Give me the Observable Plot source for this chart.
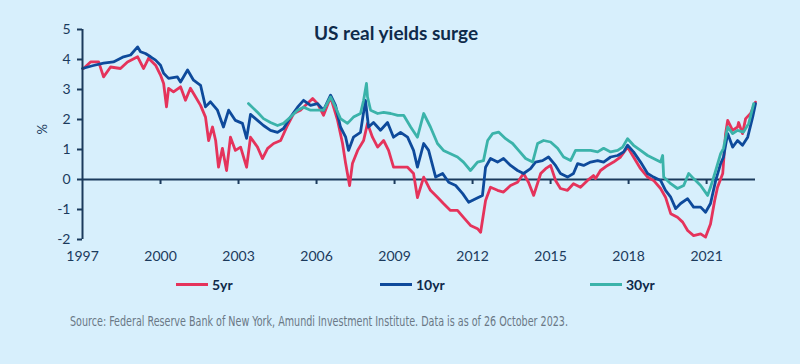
<!DOCTYPE html>
<html>
<head>
<meta charset="utf-8">
<script src="https://cdn.jsdelivr.net/npm/d3@7"></script>
<script src="https://cdn.jsdelivr.net/npm/@observablehq/plot@0.6"></script>
<style>
  html, body { margin: 0; padding: 0; background: #d7effc; }
  #wrap { position: relative; width: 800px; height: 364px; background: #d7effc; overflow: hidden; font-family: Lato, "Open Sans", sans-serif; }
  #chart { position: absolute; left: 0; top: 0; }
  #title { position: absolute; left: 0; width: 792px; top: 23px; text-align: center; font-weight: 700; font-size: 19px; line-height: 19px; color: #0e2a4a; }
  .leg { position: absolute; top: 276px; display: flex; align-items: center; font-weight: 700; font-size: 14px; color: #0e2a4a; }
  .sw { display: inline-block; width: 32px; height: 3px; margin-right: 4px; }
  #caption { position: absolute; left: 70px; top: 313px; font-family: "Liberation Sans Narrow", "DejaVu Sans Condensed", sans-serif; font-size: 14px; color: #6a7886; white-space: nowrap; transform-origin: 0 0; }
</style>
</head>
<body>
<div id="wrap">
  <div id="chart"></div>
  <div id="title"></div>
  <div id="legend"></div>
  <div id="caption"></div>
</div>
<script>
const titleText = "US real yields surge";
const captionText = "Source: Federal Reserve Bank of New York, Amundi Investment Institute. Data is as of 26 October 2023.";
const seriesNames = ["5yr", "10yr", "30yr"];
const seriesColors = ["#e5335b", "#0e4a9b", "#3bb3aa"];
const xTicks = [1997, 2000, 2003, 2006, 2009, 2012, 2015, 2018, 2021];
const yTicks = [-2, -1, 0, 1, 2, 3, 4, 5];

// [decimal year, real yield %]
const yield5 = [[1997.04,3.70],[1997.31,3.92],[1997.62,3.92],[1997.81,3.42],[1998.08,3.75],[1998.46,3.70],[1998.73,3.92],[1999.12,4.09],[1999.35,3.70],[1999.54,4.04],[1999.81,3.81],[2000.00,3.48],[2000.12,3.20],[2000.23,2.42],[2000.31,3.04],[2000.50,2.92],[2000.77,3.09],[2000.96,2.64],[2001.15,3.04],[2001.35,2.75],[2001.54,2.47],[2001.73,2.08],[2001.85,1.30],[2002.00,1.75],[2002.12,1.30],[2002.23,0.41],[2002.38,1.04],[2002.54,0.30],[2002.69,1.41],[2002.88,0.97],[2003.08,1.08],[2003.31,0.41],[2003.46,1.41],[2003.73,1.08],[2003.92,0.70],[2004.12,1.04],[2004.35,1.20],[2004.62,1.30],[2004.88,1.80],[2005.12,2.20],[2005.38,2.31],[2005.65,2.53],[2005.85,2.70],[2006.04,2.53],[2006.27,2.14],[2006.54,2.75],[2006.81,1.97],[2007.00,1.20],[2007.12,0.53],[2007.27,-0.20],[2007.38,0.53],[2007.58,0.97],[2007.81,1.30],[2007.96,1.87],[2008.15,1.41],[2008.35,1.08],[2008.58,1.30],[2008.77,0.97],[2008.96,0.41],[2009.23,0.41],[2009.50,0.41],[2009.73,0.20],[2009.88,-0.60],[2010.12,0.08],[2010.38,-0.36],[2010.65,-0.59],[2010.88,-0.80],[2011.15,-1.03],[2011.42,-1.03],[2011.65,-1.26],[2011.92,-1.53],[2012.19,-1.64],[2012.31,-1.76],[2012.50,-0.70],[2012.69,-0.26],[2012.96,-0.36],[2013.19,-0.42],[2013.46,-0.20],[2013.73,-0.09],[2013.96,0.20],[2014.15,-0.09],[2014.35,-0.53],[2014.62,0.20],[2014.81,0.36],[2015.00,0.47],[2015.19,-0.03],[2015.38,-0.30],[2015.65,-0.36],[2015.88,-0.14],[2016.15,-0.26],[2016.42,-0.03],[2016.65,0.13],[2016.73,0.03],[2016.92,0.30],[2017.19,0.47],[2017.42,0.58],[2017.69,0.75],[2017.96,1.08],[2018.19,0.75],[2018.46,0.36],[2018.73,0.08],[2018.96,-0.03],[2019.23,-0.30],[2019.42,-0.59],[2019.62,-1.14],[2019.88,-1.26],[2020.08,-1.42],[2020.27,-1.70],[2020.50,-1.87],[2020.77,-1.81],[2020.96,-1.92],[2021.15,-1.48],[2021.31,-0.70],[2021.42,-0.26],[2021.62,0.20],[2021.73,1.53],[2021.81,1.97],[2022.00,1.64],[2022.19,1.75],[2022.23,1.90],[2022.38,1.53],[2022.50,2.03],[2022.69,2.20],[2022.88,2.58]];

const yield10 = [[1997.00,3.70],[1997.42,3.80],[1997.81,3.88],[1998.19,3.92],[1998.58,4.09],[1998.85,4.15],[1999.12,4.42],[1999.23,4.26],[1999.42,4.20],[1999.62,4.09],[1999.81,3.98],[2000.00,3.81],[2000.12,3.54],[2000.31,3.37],[2000.65,3.42],[2000.77,3.25],[2001.04,3.65],[2001.27,3.31],[2001.54,3.14],[2001.73,2.42],[2001.92,2.59],[2002.19,2.31],[2002.42,1.75],[2002.62,2.31],[2002.88,1.97],[2003.15,1.87],[2003.31,1.37],[2003.46,2.17],[2003.73,1.97],[2003.96,1.80],[2004.23,1.64],[2004.50,1.57],[2004.73,1.70],[2005.00,2.08],[2005.27,2.41],[2005.50,2.64],[2005.77,2.47],[2006.04,2.53],[2006.27,2.31],[2006.54,2.81],[2006.73,2.47],[2006.92,1.75],[2007.12,1.41],[2007.23,0.97],[2007.42,1.41],[2007.69,1.57],[2007.88,2.64],[2008.00,1.75],[2008.19,1.90],[2008.46,1.64],[2008.73,1.90],[2008.96,1.41],[2009.23,1.57],[2009.50,1.41],[2009.73,0.97],[2009.88,0.41],[2010.12,1.20],[2010.31,0.97],[2010.58,0.08],[2010.85,0.20],[2011.08,-0.09],[2011.35,-0.20],[2011.62,-0.47],[2011.85,-0.76],[2012.12,-0.64],[2012.38,-0.53],[2012.50,0.41],[2012.69,0.70],[2012.96,0.58],[2013.19,0.70],[2013.46,0.47],[2013.73,0.30],[2013.96,0.20],[2014.23,0.36],[2014.42,0.58],[2014.69,0.63],[2014.92,0.75],[2015.19,0.47],[2015.38,0.20],[2015.65,0.08],[2015.88,0.20],[2016.04,0.53],[2016.27,0.47],[2016.54,0.58],[2016.81,0.63],[2017.04,0.58],[2017.31,0.75],[2017.58,0.80],[2017.81,0.92],[2017.96,1.14],[2018.19,0.92],[2018.46,0.58],[2018.73,0.20],[2018.96,0.08],[2019.23,-0.03],[2019.42,-0.36],[2019.62,-0.59],[2019.81,-0.97],[2020.00,-0.80],[2020.27,-0.64],[2020.50,-0.92],[2020.77,-0.92],[2020.96,-1.09],[2021.15,-0.80],[2021.35,-0.03],[2021.54,0.53],[2021.65,0.75],[2021.81,1.53],[2022.00,1.08],[2022.19,1.30],[2022.38,1.14],[2022.58,1.41],[2022.77,2.08],[2022.88,2.53]];

const yield30 = [[2003.38,2.53],[2003.73,2.24],[2003.96,2.03],[2004.23,1.90],[2004.50,1.80],[2004.73,1.87],[2005.00,2.08],[2005.27,2.31],[2005.50,2.41],[2005.77,2.31],[2006.04,2.31],[2006.27,2.31],[2006.54,2.75],[2006.73,2.41],[2006.92,2.03],[2007.19,1.87],[2007.42,2.08],[2007.69,2.20],[2007.81,2.64],[2007.92,3.20],[2007.96,2.75],[2008.08,2.31],[2008.35,2.20],[2008.58,2.24],[2008.85,2.20],[2009.12,2.14],[2009.35,2.14],[2009.62,1.75],[2009.88,1.41],[2010.12,2.20],[2010.38,1.75],[2010.65,1.20],[2010.88,0.97],[2011.15,0.86],[2011.42,0.75],[2011.65,0.58],[2011.92,0.30],[2012.19,0.58],[2012.42,0.63],[2012.58,1.30],[2012.77,1.53],[2013.00,1.58],[2013.27,1.36],[2013.54,1.20],[2013.77,0.97],[2014.04,0.70],[2014.31,0.58],[2014.50,1.20],[2014.73,1.30],[2015.00,1.25],[2015.27,1.04],[2015.50,0.75],[2015.77,0.63],[2015.96,0.97],[2016.27,0.97],[2016.54,0.97],[2016.81,0.92],[2017.04,1.04],[2017.31,0.92],[2017.58,0.97],[2017.77,1.08],[2017.96,1.36],[2018.19,1.14],[2018.46,0.97],[2018.73,0.80],[2018.96,0.70],[2019.23,0.58],[2019.31,0.80],[2019.35,0.08],[2019.62,-0.14],[2019.88,-0.30],[2020.12,-0.20],[2020.31,0.20],[2020.50,0.03],[2020.77,-0.20],[2021.04,-0.53],[2021.15,-0.26],[2021.35,0.30],[2021.54,0.86],[2021.65,1.04],[2021.81,1.75],[2022.00,1.53],[2022.19,1.64],[2022.42,1.58],[2022.62,1.87],[2022.81,2.53]];

const seriesData = [yield5, yield10, yield30];
const rows = seriesData.flatMap((arr, i) => arr.map(([t, v]) => ({series: seriesNames[i], t, v})));

const axisColor = "#1b3a5c";

const chart = Plot.plot({
  width: 800,
  height: 275,
  marginTop: 29,
  marginBottom: 36,
  marginLeft: 82,
  marginRight: 45,
  style: {background: "transparent", fontFamily: "Lato, 'Open Sans', sans-serif", fontSize: "14px", color: axisColor},
  x: {domain: [1997, 2022.88]},
  y: {domain: [-2, 5]},
  color: {domain: seriesNames, range: seriesColors},
  marks: [
    Plot.axisY({ticks: yTicks, tickSize: 5, tickPadding: 7, tickFormat: d => String(d), label: null, strokeWidth: 2, stroke: axisColor, fill: axisColor}),
    Plot.axisX({ticks: xTicks, tickSize: 0, tickPadding: 12, tickFormat: d => String(d), label: null, fill: axisColor}),
    Plot.ruleY([0], {stroke: axisColor, strokeWidth: 2}),
    Plot.ruleX(xTicks.slice(1), {x: d => d, y1: 0, y2: 0, insetBottom: -5, stroke: axisColor, strokeWidth: 2}),
    Plot.line(rows, {x: "t", y: "v", z: "series", stroke: "series", strokeWidth: 2.8, strokeLinejoin: "round"}),
    Plot.ruleX([xTicks[0]], {stroke: axisColor, strokeWidth: 2}),
    Plot.text(["%"], {frameAnchor: "left", dx: -40, rotate: -90, fontSize: 13, fill: axisColor})
  ]
});
document.getElementById("chart").appendChild(chart);
document.getElementById("title").textContent = titleText;

// legend
const legendX = [176, 380, 590];
const legend = document.getElementById("legend");
seriesNames.forEach((name, i) => {
  const item = document.createElement("div");
  item.className = "leg";
  item.style.left = legendX[i] + "px";
  const sw = document.createElement("span");
  sw.className = "sw";
  sw.style.background = seriesColors[i];
  const lab = document.createElement("span");
  lab.textContent = name;
  item.appendChild(sw);
  item.appendChild(lab);
  legend.appendChild(item);
});

// caption, squeezed to the reference width
const cap = document.getElementById("caption");
cap.textContent = captionText;
const w = cap.getBoundingClientRect().width;
cap.style.transform = `scaleX(${498 / w})`;
</script>
</body>
</html>
